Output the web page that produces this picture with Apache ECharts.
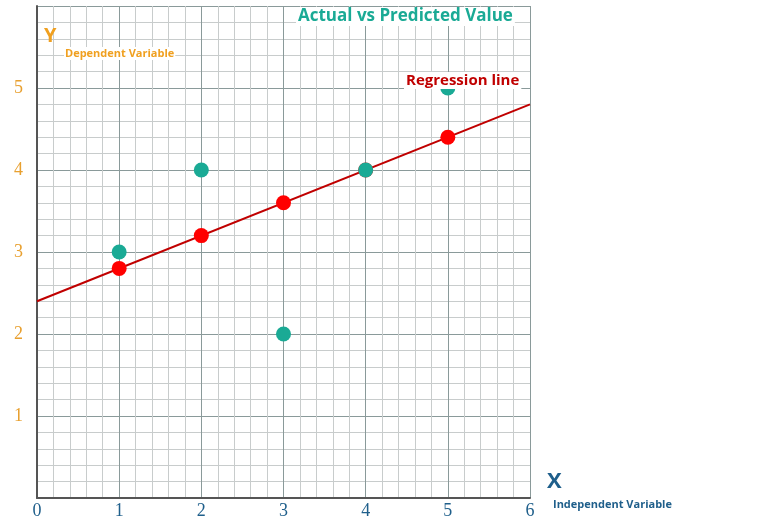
<!DOCTYPE html>
<html><head><meta charset="utf-8">
<script src="https://cdn.jsdelivr.net/npm/echarts@6/dist/echarts.min.js"></script>
<style>html,body{margin:0;padding:0;background:#fff}#c{width:768px;height:532px}</style>
</head><body><div id="c"></div>
<script>
const xValues = [1, 2, 3, 4, 5];
const actualY = [3, 4, 2, 4, 5];
const predictedY = [2.8, 3.2, 3.6, 4.0, 4.4];
const lineX = [0, 6];
const lineY = [2.4, 4.8];

const chart = echarts.init(document.getElementById('c'));
const gridLine = {show:true, lineStyle:{color:'#8a9a9a', width:1}};
const minorLine = {show:true, lineStyle:{color:'#c8cccc', width:1}};
chart.setOption({
  animation:false,
  grid:{left:37, right:238, top:6, bottom:34},
  xAxis:{type:'value', min:0, max:6, interval:1,
    axisLine:{show:true, onZero:false, lineStyle:{color:'#555', width:2}},
    axisTick:{show:false},
    axisLabel:{color:'#1f5f8b', fontFamily:'Liberation Serif', fontSize:18, margin:4},
    splitLine:gridLine, minorTick:{show:false, splitNumber:5}, minorSplitLine:minorLine},
  yAxis:{type:'value', min:0, max:6, interval:1,
    axisLine:{show:true, onZero:false, lineStyle:{color:'#555', width:2}},
    axisTick:{show:false},
    axisLabel:{color:'#e8a030', fontFamily:'Liberation Serif', fontSize:18, margin:14,
      formatter:v => (v===0||v===6)?'':v},
    splitLine:gridLine, minorTick:{show:false, splitNumber:5}, minorSplitLine:minorLine},
  graphic:[
    {type:'text', left:296, top:7, z:10, style:{text:'Actual vs Predicted Value', fill:'#1aaa95', font:'bold 17px "Open Sans"', backgroundColor:'#fff', padding:[1,2]}},
    {type:'text', left:404, top:72, z:10, style:{text:'Regression line', fill:'#c00000', font:'bold 15px "Open Sans"', backgroundColor:'#fff', padding:[1,2]}},
    {type:'text', left:44, top:26, z:10, style:{text:'Y', fill:'#f0a020', font:'bold 20px "Open Sans"'}},
    {type:'text', left:64, top:47, z:10, style:{text:'Dependent Variable', fill:'#f0a020', font:'bold 11px "Open Sans"', backgroundColor:'#fff', padding:[1,1]}},
    {type:'text', left:547, top:471, style:{text:'X', fill:'#1f5f8b', font:'bold 22px "Open Sans"'}},
    {type:'text', left:553, top:499, style:{text:'Independent Variable', fill:'#1f5f8b', font:'bold 11px "Open Sans"'}}
  ],
  series:[
    {type:'line', data:lineX.map((x,i)=>[x,lineY[i]]), symbol:'none', lineStyle:{color:'#c00000', width:2}, z:3},
    {type:'scatter', data:xValues.map((x,i)=>[x,predictedY[i]]), symbolSize:15, itemStyle:{color:'#ff0000', opacity:1}, z:4},
    {type:'scatter', data:xValues.map((x,i)=>[x,actualY[i]]), symbolSize:15, itemStyle:{color:'#1aaa95', opacity:1}, z:5}
  ]
});
</script></body></html>
